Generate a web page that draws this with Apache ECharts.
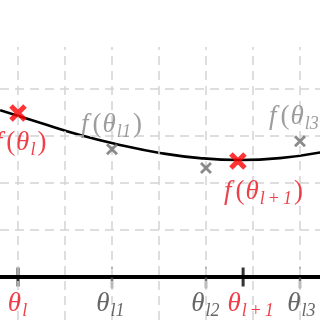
<!DOCTYPE html>
<html>
<head>
<meta charset="utf-8">
<script src="https://cdn.jsdelivr.net/npm/echarts@6/dist/echarts.min.js"></script>
<style>html,body{margin:0;padding:0;background:#fff;}#c{width:320px;height:320px;}</style>
</head>
<body>
<div id="c"></div>
<script>
// Curve f(theta)
const curveX = [-0.38, 0.47, 1.32, 2.17, 3.02, 3.87, 4.72, 5.57, 6.43];
const curveY = [3.55, 3.28, 3.02, 2.81, 2.64, 2.53, 2.49, 2.53, 2.65];
// Red (selected) points
const redX = [0, 4.68];
const redY = [3.49, 2.47];
const redNames = ['l', 'l+1'];
// Gray (sampled) points
const grayX = [2, 4, 6];
const grayY = [2.72, 2.32, 2.89];
const grayNames = ['l1', 'l3'];
// Axis ticks / labels
const blackTickX = [0, 4.79];
const grayTickX = [2, 4, 6];
const tickLabelX = [0, 2, 4, 4.79, 6];
const tickLabelSub = ['l', 'l1', 'l2', 'l+1', 'l3'];
const tickLabelRed = [true, false, false, true, false];
// Grid lines
const vGridX = [0, 1, 2, 3, 4, 5, 6];
const hGridY = [1, 2, 3, 4];

const RED = '#e8101a';
const GRAYM = '#6e6e6e';
const GRAYT = '#858585';
const DARKT = '#404040';
const FONT = '"Liberation Serif", "DejaVu Serif", serif';

function rich(color) {
  return {
    f: {fontFamily: FONT, fontStyle: 'italic', fontSize: 27, color: color, lineHeight: 34, padding: [0, 3, 0, 0]},
    p: {fontFamily: FONT, fontSize: 27, color: color, lineHeight: 34, padding: [0, 1, 0, 1]},
    t: {fontFamily: FONT, fontStyle: 'italic', fontSize: 27, color: color, lineHeight: 34},
    s: {fontFamily: FONT, fontStyle: 'italic', fontSize: 18, color: color, lineHeight: 18, padding: [14, 1, 0, 1]},
    o: {fontFamily: FONT, fontSize: 18, color: color, lineHeight: 18, padding: [14, 3, 0, 3]}
  };
}
function sub(name) {
  return name.split('+').map(p => '{s|' + p + '}').join('{o|+}');
}

const xSym = 'path://M0,0L10,10M10,0L0,10';
const curveData = curveX.map((x, i) => [x, curveY[i]]);

const redOffsets = [[3, 30], [26, 31]];
const redData = redX.map((x, i) => ({
  value: [x, redY[i]],
  label: {
    show: true, position: 'inside', offset: redOffsets[i],
    formatter: '{f|f}{p|(}{t|θ}' + sub(redNames[i]) + '{p|)}',
    rich: rich(RED)
  }
}));

const grayLabelIdx = [0, 2];
const grayData = grayX.map((x, i) => {
  const k = grayLabelIdx.indexOf(i);
  const d = {value: [x, grayY[i]]};
  if (k >= 0) {
    d.label = {
      show: true, position: 'inside', offset: [0, -24],
      formatter: '{f|f}{p|(}{t|θ}' + sub(grayNames[k]) + '{p|)}',
      rich: rich(GRAYT)
    };
  }
  return d;
});

const tickLabelOffsets = [[0, 27], [-1, 27], [0, 27], [8, 27], [2, 27]];
const tickLabelData = tickLabelX.map((x, i) => ({
  value: [x, 0],
  label: {
    show: true, position: 'inside', offset: tickLabelOffsets[i],
    formatter: '{t|θ}' + sub(tickLabelSub[i]),
    rich: rich(tickLabelRed[i] ? RED : DARKT)
  }
}));

const gridStyle = {color: '#d4d4d4', type: [9, 6], width: 1.5};

const chart = echarts.init(document.getElementById('c'), null, {renderer: 'canvas'});
chart.setOption({
  animation: false,
  backgroundColor: '#ffffff',
  grid: {left: 0, right: 0, top: 47, bottom: 0, containLabel: false},
  xAxis: {
    type: 'value', min: -0.383, max: 6.426, z: 2,
    axisLine: {show: true, onZero: true, lineStyle: {color: '#000', width: 4}},
    axisTick: {show: false}, axisLabel: {show: false}, splitLine: {show: false}
  },
  yAxis: {
    type: 'value', min: -0.915, max: 4.894,
    axisLine: {show: false}, axisTick: {show: false}, axisLabel: {show: false},
    splitLine: {show: false}
  },
  series: [
    {type: 'line', data: [], z: 1, silent: true,
     markLine: {silent: true, symbol: 'none', label: {show: false}, lineStyle: gridStyle,
       emphasis: {disabled: true},
       data: vGridX.map(v => ({xAxis: v})).concat(hGridY.map(v => ({yAxis: v})))}},
    {type: 'line', data: curveData, smooth: 0.5, symbol: 'none',
     lineStyle: {color: '#000', width: 2.6}, z: 3},
    {type: 'scatter', data: blackTickX.map(x => [x, 0]), symbol: 'rect', symbolSize: [3, 19],
     itemStyle: {color: '#000'}, z: 4},
    {type: 'scatter', data: grayTickX.map(x => [x, 0]), symbol: 'rect', symbolSize: [2.5, 11],
     symbolOffset: [0, 6], itemStyle: {color: '#555'}, z: 4},
    {type: 'scatter', data: grayTickX.map(x => [x, 0]), symbol: 'rect', symbolSize: [2, 2],
     symbolOffset: [0, -9], itemStyle: {color: '#333'}, z: 4},
    {type: 'scatter', data: grayData, symbol: xSym, symbolSize: 10,
     itemStyle: {color: 'rgba(0,0,0,0)', borderColor: GRAYM, borderWidth: 2.8}, z: 5},
    {type: 'scatter', data: redData, symbol: xSym, symbolSize: 14,
     itemStyle: {color: 'rgba(0,0,0,0)', borderColor: 'red', borderWidth: 5}, z: 6},
    {type: 'scatter', data: tickLabelData, symbolSize: 1,
     itemStyle: {color: 'rgba(0,0,0,0)'}, z: 5}
  ]
});
</script>
</body>
</html>
